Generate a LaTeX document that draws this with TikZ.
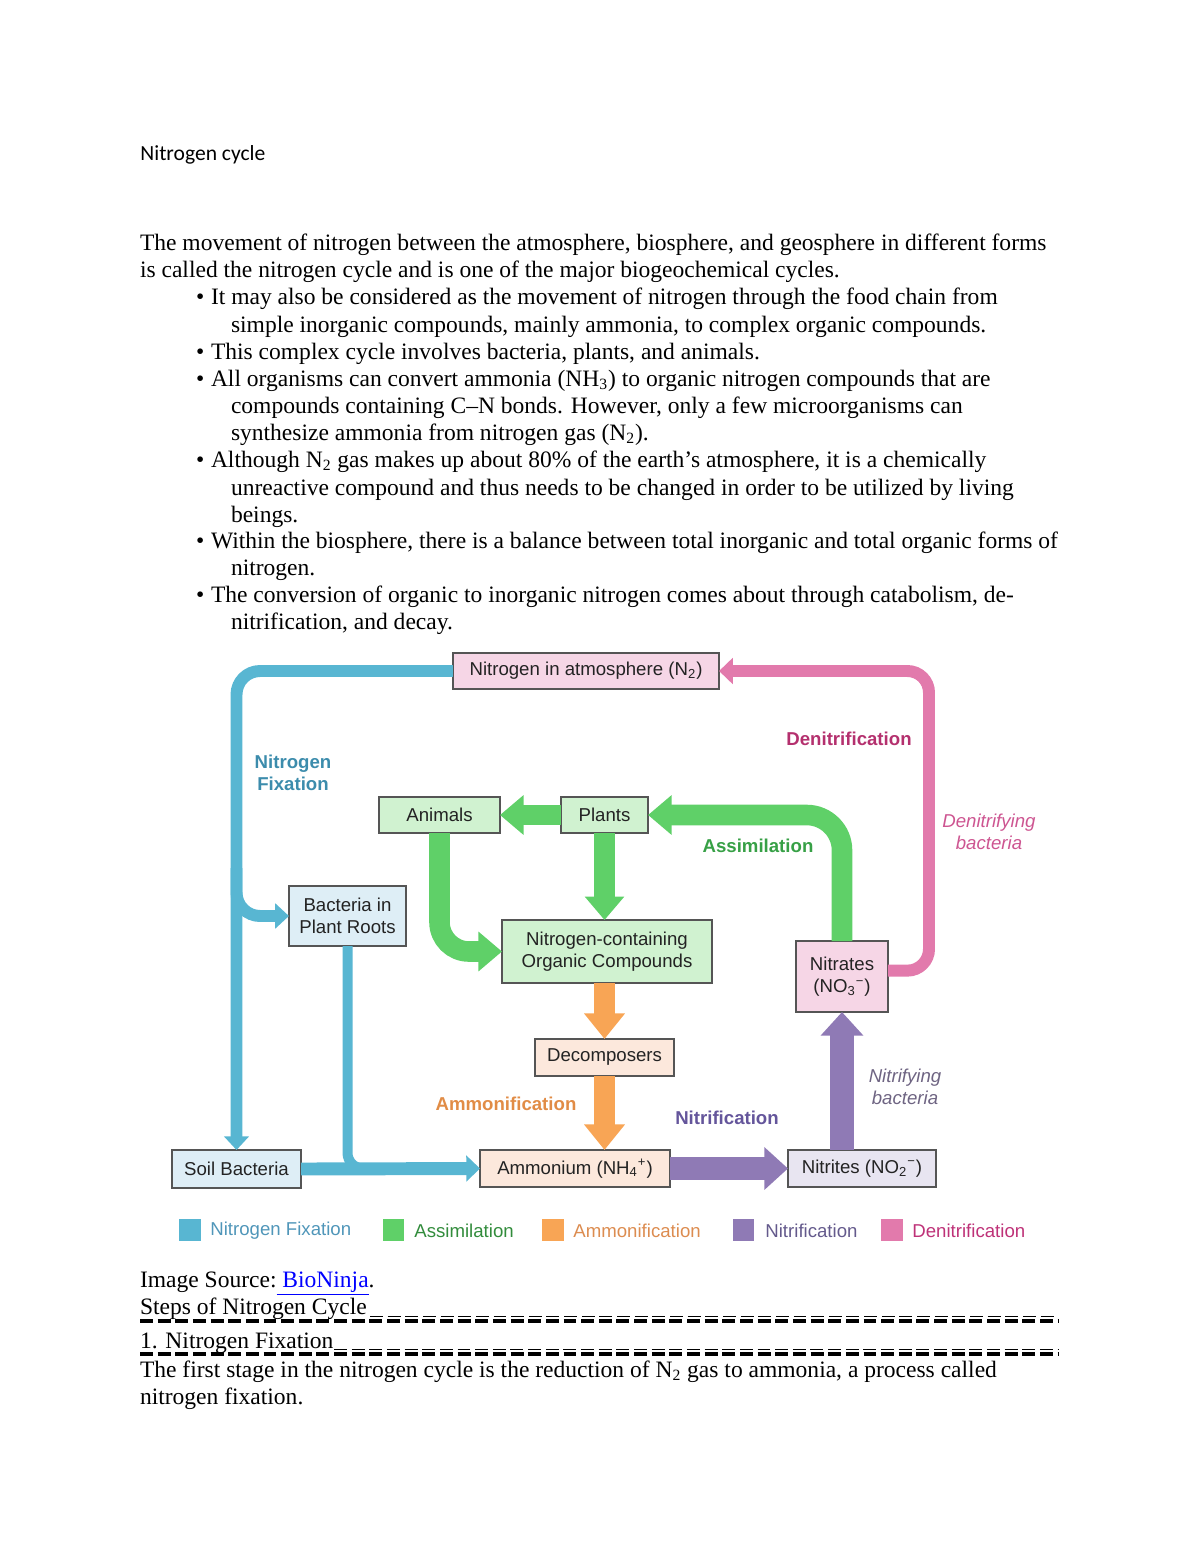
\documentclass[tikz,border=0pt]{standalone}
\usepackage{fontspec}
\setmainfont{Liberation Serif}
\newfontfamily\diagfont{Liberation Sans}
\newfontfamily\calibfont{Carlito}
\usetikzlibrary{arrows.meta}
\definecolor{cblue}{RGB}{88,182,210}
\definecolor{cgreen}{RGB}{95,208,104}
\definecolor{corange}{RGB}{248,165,85}
\definecolor{cpurple}{RGB}{143,122,181}
\definecolor{cpink}{RGB}{226,122,172}
\definecolor{fpink}{RGB}{246,214,230}
\definecolor{fgreen}{RGB}{208,242,208}
\definecolor{fblue}{RGB}{222,238,246}
\definecolor{fpeach}{RGB}{252,232,220}
\definecolor{flav}{RGB}{232,229,241}
\definecolor{boxline}{RGB}{85,85,85}
\definecolor{boxtext}{RGB}{35,35,35}
\definecolor{lblue}{RGB}{60,140,172}
\definecolor{ldenit}{RGB}{180,48,110}
\definecolor{ldenitb}{RGB}{205,85,145}
\definecolor{lassim}{RGB}{55,160,70}
\definecolor{lammon}{RGB}{225,140,70}
\definecolor{lnitr}{RGB}{100,85,155}
\definecolor{lnitrb}{RGB}{110,100,130}
\definecolor{gblue}{RGB}{80,150,185}
\definecolor{ggreen}{RGB}{50,140,60}
\definecolor{gorange}{RGB}{220,140,80}
\definecolor{gpurple}{RGB}{100,90,140}
\definecolor{gpink}{RGB}{190,50,120}
\definecolor{linkblue}{RGB}{0,0,255}
\begin{document}
\begin{tikzpicture}[x=0.51pt,y=-0.51pt,
  body/.style={anchor=base west, inner sep=0, outer sep=0, font=\fontsize{12}{14}\selectfont},
  box/.style={draw=boxline, line width=0.7pt, inner sep=0, outer sep=0, align=center, text=boxtext,
    font=\diagfont\fontsize{9.5}{11.5}\selectfont},
  lbl/.style={inner sep=0, align=center, font=\diagfont\bfseries\fontsize{9.5}{11.2}\selectfont},
  ilbl/.style={inner sep=0, align=center, font=\diagfont\itshape\fontsize{9.5}{11.2}\selectfont},
  legsq/.style={inner sep=0, minimum size=11.2pt},
  legtx/.style={anchor=west, inner sep=0, font=\diagfont\fontsize{9.5}{11.2}\selectfont},
  bluel/.style={draw=cblue, line width=6.1pt},
  bluetip/.style={-{Triangle[width=12.5pt,length=7pt]}},
  greena/.style={draw=cgreen, line width=10.5pt, -{Triangle[width=19.5pt,length=12pt]}},
  orangea/.style={draw=corange, line width=11pt, -{Triangle[width=20pt,length=13pt]}},
  purplea/.style={draw=cpurple, line width=12pt, -{Triangle[width=21pt,length=12pt]}},
  pinka/.style={draw=cpink, line width=6.1pt, -{Triangle[width=13pt,length=7pt]}},
  heavydash/.style={line width=2pt, dash pattern=on 6.6pt off 2.4pt},
  thindash/.style={line width=0.5pt, dash pattern=on 6.6pt off 2.4pt}
]
\useasboundingbox (0,0) rectangle (1200,1553);

% ---------- text ----------
\node[anchor=base west, inner sep=0, font=\calibfont\fontsize{11}{13}\selectfont] (title) at (140,161) {Nitrogen cycle};

\node[body] (l1) at (140,250) {The movement of nitrogen between the atmosphere, biosphere, and geosphere in different forms};
\node[body] (l2) at (140,277) {is called the nitrogen cycle and is one of the major biogeochemical cycles.};
\node[body] (b1) at (196,304) {•};
\node[body] (l3) at (211,304) {It may also be considered as the movement of nitrogen through the food chain from};
\node[body] (l4) at (231,332) {simple inorganic compounds, mainly ammonia, to complex organic compounds.};
\node[body] (b2) at (196,359) {•};
\node[body] (l5) at (211,359) {This complex cycle involves bacteria, plants, and animals.};
\node[body] (b3) at (196,386) {•};
\node[body] (l6) at (211,386) {All organisms can convert ammonia (NH\textsubscript{3}) to organic nitrogen compounds that are};
\node[body] (l7) at (231,413) {compounds containing C–N bonds. However, only a few microorganisms can};
\node[body] (l8) at (231,440) {synthesize ammonia from nitrogen gas (N\textsubscript{2}).};
\node[body] (b4) at (196,467) {•};
\node[body] (l9) at (211,467) {Although N\textsubscript{2} gas makes up about 80\% of the earth’s atmosphere, it is a chemically};
\node[body] (l10) at (231,495) {unreactive compound and thus needs to be changed in order to be utilized by living};
\node[body] (l11) at (231,522) {beings.};
\node[body] (b5) at (196,548) {•};
\node[body] (l12) at (211,548) {Within the biosphere, there is a balance between total inorganic and total organic forms of};
\node[body] (l13) at (231,575) {nitrogen.};
\node[body] (b6) at (196,602) {•};
\node[body] (l14) at (211,602) {The conversion of organic to inorganic nitrogen comes about through catabolism, de-};
\node[body] (l15) at (231,629) {nitrification, and decay.};

% ---------- diagram boxes ----------
\node[box, fill=fpink, minimum width=135.7pt, minimum height=18.4pt] (atm) at (586,671) {Nitrogen in atmosphere (N\textsubscript{2})};
\node[box, fill=fgreen, minimum width=61.7pt, minimum height=18.4pt] (animals) at (439.5,815) {Animals};
\node[box, fill=fgreen, minimum width=44.4pt, minimum height=18.4pt] (plants) at (604.5,815) {Plants};
\node[box, fill=fblue, minimum width=59.7pt, minimum height=30.6pt] (bpr) at (347.5,916) {Bacteria in\\Plant Roots};
\node[box, fill=fgreen, minimum width=107.1pt, minimum height=32.1pt] (organic) at (607,951.5) {Nitrogen-containing\\Organic Compounds};
\node[box, fill=fpink, minimum width=46.9pt, minimum height=36.2pt] (nitrates) at (842,976.5) {Nitrates\\(NO\textsubscript{3}\textsuperscript{−})};
\node[box, fill=fpeach, minimum width=70.9pt, minimum height=18.9pt] (decomp) at (604.5,1057.5) {Decomposers};
\node[box, fill=fblue, minimum width=65.8pt, minimum height=19.4pt] (soil) at (236.5,1169) {Soil Bacteria};
\node[box, fill=fpeach, minimum width=96.9pt, minimum height=18.9pt] (ammonium) at (575,1168.5) {Ammonium (NH\textsubscript{4}\textsuperscript{+})};
\node[box, fill=flav, minimum width=75.5pt, minimum height=18.9pt] (nitrites) at (862,1168.5) {Nitrites (NO\textsubscript{2}\textsuperscript{−})};

% ---------- coordinates ----------
\coordinate (brstart) at (236.5,868);
\coordinate (bpjoin) at (400,1168.5);
\coordinate (pkcorner) at (929,671);

% ---------- blue (nitrogen fixation) ----------
\draw[bluel, bluetip, rounded corners=12pt] (atm.west) -| (soil.north);
\draw[bluel, bluetip, rounded corners=12pt] (brstart) |- (bpr.west);
\draw[draw=cblue, line width=5.1pt, rounded corners=8pt] (bpr.south) |- (bpjoin);
\draw[draw=cblue, line width=6.6pt, -{Triangle[width=13pt,length=7pt]}] (soil.east) -- (ammonium.west);

% ---------- green (assimilation) ----------
\draw[greena] (plants.west) -- (animals.east);
\draw[greena] (plants.south) -- (plants.south |- organic.north);
\draw[greena, rounded corners=15pt] (animals.south) |- (organic.west);
\draw[greena, rounded corners=18pt] (nitrates.north) |- (plants.east);

% ---------- orange (ammonification) ----------
\draw[orangea] (decomp.north |- organic.south) -- (decomp.north);
\draw[orangea] (decomp.south) -- (decomp.south |- ammonium.north);

% ---------- purple (nitrification) ----------
\draw[purplea] (ammonium.east) -- (nitrites.west);
\draw[purplea] (nitrates.south |- nitrites.north) -- (nitrates.south);

% ---------- pink (denitrification) ----------
\draw[pinka, rounded corners=11pt] ([yshift=3pt]nitrates.east) -| (pkcorner) -- (atm.east);

% ---------- labels ----------
\node[lbl, text=lblue] (lfix) at (293,773) {Nitrogen\\Fixation};
\node[lbl, text=ldenit] (ldenit) at (849,739) {Denitrification};
\node[ilbl, text=ldenitb] (ldenitb) at (989,832) {Denitrifying\\bacteria};
\node[lbl, text=lassim] (lassim) at (758,846) {Assimilation};
\node[lbl, text=lammon] (lammon) at (506,1104) {Ammonification};
\node[lbl, text=lnitr] (lnitr) at (727,1118) {Nitrification};
\node[ilbl, text=lnitrb] (lnitrb) at (905,1087) {Nitrifying\\bacteria};

% ---------- legend ----------
\node[legsq, fill=cblue] (sq1) at (190,1230) {};
\node[legtx, text=gblue] (lg1) at (210,1231) {Nitrogen Fixation};
\node[legsq, fill=cgreen] (sq2) at (393.5,1230) {};
\node[legtx, text=ggreen] (lg2) at (414,1231) {Assimilation};
\node[legsq, fill=corange] (sq3) at (553,1230) {};
\node[legtx, text=gorange] (lg3) at (573,1231) {Ammonification};
\node[legsq, fill=cpurple] (sq4) at (743.5,1230) {};
\node[legtx, text=gpurple] (lg4) at (765,1231) {Nitrification};
\node[legsq, fill=cpink] (sq5) at (892,1230) {};
\node[legtx, text=gpink] (lg5) at (912,1231) {Denitrification};

% ---------- bottom text ----------
\node[body] (src) at (140,1287) {Image Source:\textcolor{linkblue}{\underline{\ BioNinja}}.};
\node[body] (steps) at (140,1314) {Steps of Nitrogen Cycle};
\coordinate (d1a) at (140,1321);
\coordinate (d1b) at (1058,1321);
\draw[heavydash] (d1a) -- (d1b);
\coordinate (t1a) at (370,1316);
\coordinate (t1b) at (1058,1316);
\draw[thindash] (t1a) -- (t1b);
\node[body] (step1) at (140,1348) {1. Nitrogen Fixation};
\coordinate (d2a) at (140,1354);
\coordinate (d2b) at (1058,1354);
\draw[heavydash] (d2a) -- (d2b);
\coordinate (t2a) at (334,1349);
\coordinate (t2b) at (1058,1349);
\draw[thindash] (t2a) -- (t2b);
\node[body] (p1) at (140,1377) {The first stage in the nitrogen cycle is the reduction of N\textsubscript{2} gas to ammonia, a process called};
\node[body] (p2) at (140,1404) {nitrogen fixation.};
\end{tikzpicture}
\end{document}
